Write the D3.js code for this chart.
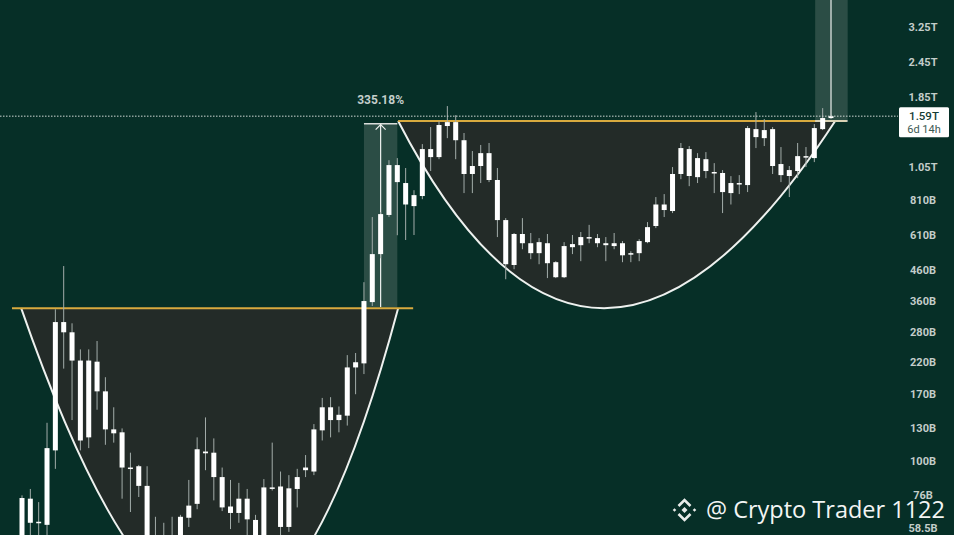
<!DOCTYPE html>
<html>
<head>
<meta charset="utf-8">
<script src="https://cdn.jsdelivr.net/npm/d3@7"></script>
<style>
  html, body { margin: 0; padding: 0; background: #062f27; overflow: hidden; }
</style>
</head>
<body>
<div id="chart-area"></div>
<script>
const WIDTH = 954
const HEIGHT = 535

// weekly candles, values in billions
const opens = [51, 74, 61, 60, 109, 305, 281, 224, 121, 222, 175, 129, 126, 95, 96, 82, 52, 46, 47, 51,
  63.5, 71, 108, 107, 88, 69.5, 66, 74, 62.4, 51, 81, 81.6, 59, 80, 93, 92, 128, 154, 139, 144,
  212, 219, 358, 526, 720, 1074, 930, 773, 838, 1221, 1145, 1469, 1516, 1311, 1000, 1066, 1182, 953, 691, 482,
  618, 574, 530, 574, 493, 437, 556, 565, 603, 598, 574, 561, 574, 526, 530, 579, 659, 783, 743, 1000,
  1221, 975, 1126, 1016, 1008, 858, 930, 915, 1433, 1333, 1433, 1083, 984, 1024, 1154, 1136, 1433, 1566]
const closes = [74.4, 61, 61.5, 111, 305, 281, 224, 118, 224, 175, 129, 125, 95, 94, 82, 51, 46, 51, 53, 64,
  70, 110, 106.5, 88, 69, 66, 74, 62.7, 51, 81, 80.4, 59, 80.4, 88, 95, 129, 154, 139, 145, 212,
  221, 361, 526, 725, 1074, 937, 783, 844, 1221, 1145, 1481, 1516, 1311, 1000, 1066, 1182, 953, 691, 485, 618,
  574, 530, 579, 489, 437, 561, 570, 603, 598, 574, 565, 574, 521, 530, 584, 653, 783, 749, 1000, 1231,
  984, 1136, 1024, 1008, 865, 930, 923, 1445, 1344, 1422, 1066, 991, 1032, 1154, 1145, 1445, 1566, 1590]
const highs = [76, 80, 72, 136, 338, 478, 302, 245, 245, 262, 196, 154, 130, 107, 97, 96, 64, 61, 64, 65,
  86, 121, 142, 120, 95, 86, 84, 80, 65, 86.6, 116, 92, 89.4, 94, 105, 134.6, 166, 167, 155, 234,
  238, 420, 708, 737, 1117, 1136, 1049, 878, 1271, 1457, 1528, 1724, 1603, 1389, 1202, 1262, 1282, 1049, 702, 623,
  702, 623, 598, 618, 497, 579, 613, 628, 665, 618, 603, 623, 584, 538, 593, 680, 831, 851, 1057, 1282,
  1251, 1182, 1192, 1091, 1032, 983, 991, 1469, 1643, 1553, 1457, 1241, 1066, 1282, 1241, 1492, 1696, 1616]
const lows = [47, 53, 51, 53, 94, 210, 139, 109, 111, 151, 114, 116, 74, 66.5, 75, 47, 43, 42, 43.5, 47,
  59, 68, 93, 73, 67, 58, 61, 53, 47, 47, 79, 53, 56.7, 69, 88, 89.4, 118, 121, 126, 133,
  171, 201, 347, 509, 708, 612, 589, 613, 817, 1024, 1126, 1333, 1126, 858, 858, 930, 937, 603, 430, 466,
  547, 505, 485, 434, 434, 434, 526, 497, 574, 556, 497, 547, 493, 493, 497, 574, 648, 708, 731, 959,
  907, 930, 967, 858, 731, 783, 851, 865, 1231, 1251, 1000, 937, 831, 967, 1057, 1100, 1422, 1553]

// price axis
const tickValues = [3250, 2450, 1850, 1050, 810, 610, 460, 360, 280, 220, 170, 130, 100, 76, 58.5]
const tickLabels = ["3.25T", "2.45T", "1.85T", "1.05T", "810B", "610B", "460B", "360B", "280B", "220B",
  "170B", "130B", "100B", "76B", "58.5B"]

// cup drawings (candle index / price)
const cupFrom = [-0.1, 45.1]
const cupTo = [45.1, 97.5]
const cupRim = [341, 1530]
const cupCtrlIdx = [25.5, 68.3]
const cupCtrlPrice = [2.5, 76]
const rimFrom = [-1.2, 45.1]
const rimTo = [46.9, 98.9]

// price range measurements
const measureFrom = [41.0, 95.1]
const measureTo = [45.0, 99.0]
const measureAt = [43.0, 97.0]
const measureLow = [344, 1530]
const measureHigh = [1497, 6650]
const measureText = ["335.18%", ""]

const lastPrice = 1590
const lastLabel = "1.59T"
const countdown = "6d 14h"

const svg = d3.select("#chart-area").append("svg")
  .attr("width", WIDTH)
  .attr("height", HEIGHT)
  .style("display", "block")

svg.append("rect")
  .attr("width", WIDTH)
  .attr("height", HEIGHT)
  .attr("fill", "#062f27")

// scales
const x = d3.scaleLinear().domain([0, 97]).range([22, 831])
const y = d3.scaleLog().domain([58.5, 3250]).range([528, 27])

const g = svg.append("g")

// cup fills and curves
const cupCurve = i => `M${x(cupFrom[i])},${y(cupRim[i])} Q${x(cupCtrlIdx[i])},${y(cupCtrlPrice[i])} ${x(cupTo[i])},${y(cupRim[i])}`

g.selectAll(".cup-fill")
  .data(cupFrom)
  .enter().append("path")
  .attr("class", "cup-fill")
  .attr("d", (d, i) => cupCurve(i) + "Z")
  .attr("fill", "#232b28")

// measurement boxes
g.selectAll(".measure")
  .data(measureFrom)
  .enter().append("rect")
  .attr("class", "measure")
  .attr("x", (d, i) => x(measureFrom[i]))
  .attr("width", (d, i) => x(measureTo[i]) - x(measureFrom[i]))
  .attr("y", (d, i) => y(measureHigh[i]))
  .attr("height", (d, i) => y(measureLow[i]) - y(measureHigh[i]))
  .attr("fill", "#2b4d45")

g.selectAll(".cup-line")
  .data(cupFrom)
  .enter().append("path")
  .attr("class", "cup-line")
  .attr("d", (d, i) => cupCurve(i))
  .attr("fill", "none")
  .attr("stroke", "#eef1ef")
  .attr("stroke-width", 2)

// rim lines
g.selectAll(".rim")
  .data(rimFrom)
  .enter().append("line")
  .attr("class", "rim")
  .attr("x1", (d, i) => x(rimFrom[i]))
  .attr("x2", (d, i) => x(rimTo[i]))
  .attr("y1", (d, i) => y(cupRim[i]))
  .attr("y2", (d, i) => y(cupRim[i]))
  .attr("stroke", "#d8aa3f")
  .attr("stroke-width", 2)

// measurement edges, arrows and labels
measureFrom.forEach((d, i) => {
  const top = y(measureHigh[i]), bot = y(measureLow[i])
  const edgeY = i === 0 ? top : bot
  g.append("line")
    .attr("x1", x(measureFrom[i])).attr("x2", x(measureTo[i]))
    .attr("y1", edgeY).attr("y2", edgeY)
    .attr("stroke", "#d9dedb").attr("stroke-width", 1.5)
  const ax = x(measureAt[i])
  g.append("line")
    .attr("x1", ax).attr("x2", ax)
    .attr("y1", i === 0 ? bot : y(lastPrice)).attr("y2", top)
    .attr("stroke", "#eef1ef").attr("stroke-width", 1.2)
  g.append("path")
    .attr("d", `M${ax - 5},${top + 6} L${ax},${top + 1} L${ax + 5},${top + 6}`)
    .attr("fill", "none").attr("stroke", "#eef1ef").attr("stroke-width", 1.2)
  g.append("text")
    .attr("x", ax)
    .attr("y", top - 24)
    .attr("text-anchor", "middle")
    .attr("dominant-baseline", "central")
    .attr("font-family", "Roboto, sans-serif")
    .attr("font-weight", "bold")
    .attr("font-size", "12px")
    .attr("fill", "#c4cecb")
    .text(measureText[i])
})

// candles
const idx = d3.range(opens.length)
g.selectAll(".wick")
  .data(idx)
  .enter().append("line")
  .attr("class", "wick")
  .attr("x1", i => x(i)).attr("x2", i => x(i))
  .attr("y1", i => y(highs[i]))
  .attr("y2", i => y(lows[i]))
  .attr("stroke", "#a3adaa")
  .attr("stroke-width", 1)

g.selectAll(".body")
  .data(idx)
  .enter().append("rect")
  .attr("class", "body")
  .attr("x", i => x(i) - 2.5)
  .attr("width", 5)
  .attr("y", i => y(Math.max(opens[i], closes[i])))
  .attr("height", i => Math.max(1.5, Math.abs(y(opens[i]) - y(closes[i]))))
  .attr("fill", "#ffffff")

// last price line
g.append("line")
  .attr("x1", 0).attr("x2", 898)
  .attr("y1", y(lastPrice)).attr("y2", y(lastPrice))
  .attr("stroke", "#cfd6d3")
  .attr("stroke-width", 1)
  .attr("stroke-dasharray", "1.5,1.5")

// price axis labels
svg.selectAll(".tick-label")
  .data(tickValues)
  .enter().append("text")
  .attr("class", "tick-label")
  .attr("x", 923)
  .attr("y", d => y(d))
  .attr("text-anchor", "middle")
  .attr("dominant-baseline", "central")
  .attr("font-family", "Roboto, sans-serif")
  .attr("font-weight", "bold")
  .attr("font-size", "11px")
  .attr("fill", "#c3cdca")
  .text((d, i) => tickLabels[i])

// last price tag
const tagY = y(lastPrice)
svg.append("rect")
  .attr("x", 899).attr("y", tagY - 9)
  .attr("width", 50).attr("height", 30)
  .attr("rx", 1.5)
  .attr("fill", "#ffffff")
svg.append("text")
  .attr("x", 924).attr("y", tagY)
  .attr("text-anchor", "middle")
  .attr("dominant-baseline", "central")
  .attr("font-family", "Roboto, sans-serif")
  .attr("font-weight", 500)
  .attr("font-size", "11.5px")
  .attr("fill", "#153d35")
  .text(lastLabel)
svg.append("text")
  .attr("x", 924).attr("y", tagY + 13)
  .attr("text-anchor", "middle")
  .attr("dominant-baseline", "central")
  .attr("font-family", "Roboto, sans-serif")
  .attr("font-size", "11px")
  .attr("fill", "#3d5a54")
  .text(countdown)

// watermark
const wm = svg.append("g").attr("transform", "translate(684.5, 510)")
const diamond = s => `M0,${-s} L${s},0 L0,${s} L${-s},0Z`
wm.append("path").attr("d", diamond(3)).attr("fill", "#e9ecea")
wm.append("path").attr("d", diamond(1.8)).attr("transform", "translate(-10,0)").attr("fill", "#e9ecea")
wm.append("path").attr("d", diamond(1.8)).attr("transform", "translate(10,0)").attr("fill", "#e9ecea")
wm.append("path").attr("d", "M-6,-4 L0,-10 L6,-4").attr("fill", "none").attr("stroke", "#e9ecea").attr("stroke-width", 2.6)
wm.append("path").attr("d", "M-6,4 L0,10 L6,4").attr("fill", "none").attr("stroke", "#e9ecea").attr("stroke-width", 2.6)

svg.append("text")
  .attr("x", 945).attr("y", 518)
  .attr("text-anchor", "end")
  .attr("font-family", "'Open Sans', sans-serif")
  .attr("font-size", "23.5px")
  .attr("fill", "#f3f5f4")
  .text("@ Crypto Trader 1122")
</script>
</body>
</html>
